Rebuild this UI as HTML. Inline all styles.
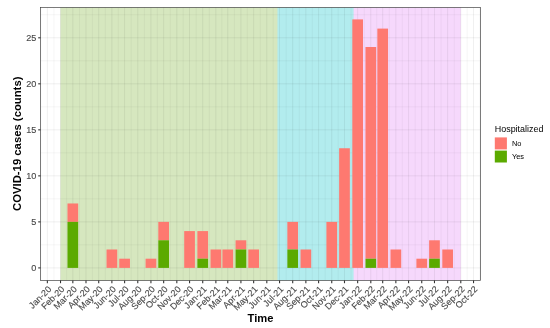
<!DOCTYPE html><html><head><meta charset="utf-8"><title>COVID-19 cases</title>
<style>html,body{margin:0;padding:0;background:#fff}svg{display:block}text{font-family:"Liberation Sans",Arial,Helvetica,sans-serif}</style></head><body>
<svg width="550" height="328" viewBox="0 0 550 328">
<rect width="550" height="328" fill="#fff"/>
<rect x="60.52" y="7.4" width="218.93" height="273.0" fill="rgb(214,231,191)"/>
<rect x="277.45" y="7.4" width="78.15" height="273.0" fill="rgb(178,236,238)"/>
<rect x="353.60" y="7.4" width="107.19" height="273.0" fill="rgb(246,216,252)"/>
<g><line x1="53.94" x2="53.94" y1="7.4" y2="280.4" stroke="rgba(0,0,0,0.12)" stroke-width="0.34"/><line x1="66.67" x2="66.67" y1="7.4" y2="280.4" stroke="rgba(0,0,0,0.12)" stroke-width="0.34"/><line x1="79.41" x2="79.41" y1="7.4" y2="280.4" stroke="rgba(0,0,0,0.12)" stroke-width="0.34"/><line x1="92.35" x2="92.35" y1="7.4" y2="280.4" stroke="rgba(0,0,0,0.12)" stroke-width="0.34"/><line x1="105.30" x2="105.30" y1="7.4" y2="280.4" stroke="rgba(0,0,0,0.12)" stroke-width="0.34"/><line x1="118.25" x2="118.25" y1="7.4" y2="280.4" stroke="rgba(0,0,0,0.12)" stroke-width="0.34"/><line x1="131.19" x2="131.19" y1="7.4" y2="280.4" stroke="rgba(0,0,0,0.12)" stroke-width="0.34"/><line x1="144.35" x2="144.35" y1="7.4" y2="280.4" stroke="rgba(0,0,0,0.12)" stroke-width="0.34"/><line x1="157.30" x2="157.30" y1="7.4" y2="280.4" stroke="rgba(0,0,0,0.12)" stroke-width="0.34"/><line x1="170.24" x2="170.24" y1="7.4" y2="280.4" stroke="rgba(0,0,0,0.12)" stroke-width="0.34"/><line x1="183.19" x2="183.19" y1="7.4" y2="280.4" stroke="rgba(0,0,0,0.12)" stroke-width="0.34"/><line x1="196.14" x2="196.14" y1="7.4" y2="280.4" stroke="rgba(0,0,0,0.12)" stroke-width="0.34"/><line x1="209.30" x2="209.30" y1="7.4" y2="280.4" stroke="rgba(0,0,0,0.12)" stroke-width="0.34"/><line x1="221.82" x2="221.82" y1="7.4" y2="280.4" stroke="rgba(0,0,0,0.12)" stroke-width="0.34"/><line x1="234.34" x2="234.34" y1="7.4" y2="280.4" stroke="rgba(0,0,0,0.12)" stroke-width="0.34"/><line x1="247.29" x2="247.29" y1="7.4" y2="280.4" stroke="rgba(0,0,0,0.12)" stroke-width="0.34"/><line x1="260.23" x2="260.23" y1="7.4" y2="280.4" stroke="rgba(0,0,0,0.12)" stroke-width="0.34"/><line x1="273.18" x2="273.18" y1="7.4" y2="280.4" stroke="rgba(0,0,0,0.12)" stroke-width="0.34"/><line x1="286.12" x2="286.12" y1="7.4" y2="280.4" stroke="rgba(0,0,0,0.12)" stroke-width="0.34"/><line x1="299.28" x2="299.28" y1="7.4" y2="280.4" stroke="rgba(0,0,0,0.12)" stroke-width="0.34"/><line x1="312.23" x2="312.23" y1="7.4" y2="280.4" stroke="rgba(0,0,0,0.12)" stroke-width="0.34"/><line x1="325.18" x2="325.18" y1="7.4" y2="280.4" stroke="rgba(0,0,0,0.12)" stroke-width="0.34"/><line x1="338.12" x2="338.12" y1="7.4" y2="280.4" stroke="rgba(0,0,0,0.12)" stroke-width="0.34"/><line x1="351.07" x2="351.07" y1="7.4" y2="280.4" stroke="rgba(0,0,0,0.12)" stroke-width="0.34"/><line x1="364.23" x2="364.23" y1="7.4" y2="280.4" stroke="rgba(0,0,0,0.12)" stroke-width="0.34"/><line x1="376.75" x2="376.75" y1="7.4" y2="280.4" stroke="rgba(0,0,0,0.12)" stroke-width="0.34"/><line x1="389.27" x2="389.27" y1="7.4" y2="280.4" stroke="rgba(0,0,0,0.12)" stroke-width="0.34"/><line x1="402.22" x2="402.22" y1="7.4" y2="280.4" stroke="rgba(0,0,0,0.12)" stroke-width="0.34"/><line x1="415.16" x2="415.16" y1="7.4" y2="280.4" stroke="rgba(0,0,0,0.12)" stroke-width="0.34"/><line x1="428.11" x2="428.11" y1="7.4" y2="280.4" stroke="rgba(0,0,0,0.12)" stroke-width="0.34"/><line x1="441.06" x2="441.06" y1="7.4" y2="280.4" stroke="rgba(0,0,0,0.12)" stroke-width="0.34"/><line x1="454.21" x2="454.21" y1="7.4" y2="280.4" stroke="rgba(0,0,0,0.12)" stroke-width="0.34"/><line x1="467.16" x2="467.16" y1="7.4" y2="280.4" stroke="rgba(0,0,0,0.12)" stroke-width="0.34"/><line x1="40.78" x2="40.78" y1="7.4" y2="280.4" stroke="rgba(0,0,0,0.12)" stroke-width="0.34"/><line x1="479.89" x2="479.89" y1="7.4" y2="280.4" stroke="rgba(0,0,0,0.12)" stroke-width="0.34"/><line x1="40.5" x2="480.5" y1="244.89" y2="244.89" stroke="rgba(0,0,0,0.12)" stroke-width="0.34"/><line x1="40.5" x2="480.5" y1="198.87" y2="198.87" stroke="rgba(0,0,0,0.12)" stroke-width="0.34"/><line x1="40.5" x2="480.5" y1="152.85" y2="152.85" stroke="rgba(0,0,0,0.12)" stroke-width="0.34"/><line x1="40.5" x2="480.5" y1="106.83" y2="106.83" stroke="rgba(0,0,0,0.12)" stroke-width="0.34"/><line x1="40.5" x2="480.5" y1="60.81" y2="60.81" stroke="rgba(0,0,0,0.12)" stroke-width="0.34"/><line x1="40.5" x2="480.5" y1="14.79" y2="14.79" stroke="rgba(0,0,0,0.12)" stroke-width="0.34"/><line x1="47.36" x2="47.36" y1="7.4" y2="280.4" stroke="rgba(0,0,0,0.12)" stroke-width="0.55"/><line x1="60.52" x2="60.52" y1="7.4" y2="280.4" stroke="rgba(0,0,0,0.12)" stroke-width="0.55"/><line x1="72.83" x2="72.83" y1="7.4" y2="280.4" stroke="rgba(0,0,0,0.12)" stroke-width="0.55"/><line x1="85.99" x2="85.99" y1="7.4" y2="280.4" stroke="rgba(0,0,0,0.12)" stroke-width="0.55"/><line x1="98.72" x2="98.72" y1="7.4" y2="280.4" stroke="rgba(0,0,0,0.12)" stroke-width="0.55"/><line x1="111.88" x2="111.88" y1="7.4" y2="280.4" stroke="rgba(0,0,0,0.12)" stroke-width="0.55"/><line x1="124.61" x2="124.61" y1="7.4" y2="280.4" stroke="rgba(0,0,0,0.12)" stroke-width="0.55"/><line x1="137.77" x2="137.77" y1="7.4" y2="280.4" stroke="rgba(0,0,0,0.12)" stroke-width="0.55"/><line x1="150.93" x2="150.93" y1="7.4" y2="280.4" stroke="rgba(0,0,0,0.12)" stroke-width="0.55"/><line x1="163.66" x2="163.66" y1="7.4" y2="280.4" stroke="rgba(0,0,0,0.12)" stroke-width="0.55"/><line x1="176.82" x2="176.82" y1="7.4" y2="280.4" stroke="rgba(0,0,0,0.12)" stroke-width="0.55"/><line x1="189.56" x2="189.56" y1="7.4" y2="280.4" stroke="rgba(0,0,0,0.12)" stroke-width="0.55"/><line x1="202.72" x2="202.72" y1="7.4" y2="280.4" stroke="rgba(0,0,0,0.12)" stroke-width="0.55"/><line x1="215.87" x2="215.87" y1="7.4" y2="280.4" stroke="rgba(0,0,0,0.12)" stroke-width="0.55"/><line x1="227.76" x2="227.76" y1="7.4" y2="280.4" stroke="rgba(0,0,0,0.12)" stroke-width="0.55"/><line x1="240.92" x2="240.92" y1="7.4" y2="280.4" stroke="rgba(0,0,0,0.12)" stroke-width="0.55"/><line x1="253.65" x2="253.65" y1="7.4" y2="280.4" stroke="rgba(0,0,0,0.12)" stroke-width="0.55"/><line x1="266.81" x2="266.81" y1="7.4" y2="280.4" stroke="rgba(0,0,0,0.12)" stroke-width="0.55"/><line x1="279.55" x2="279.55" y1="7.4" y2="280.4" stroke="rgba(0,0,0,0.12)" stroke-width="0.55"/><line x1="292.70" x2="292.70" y1="7.4" y2="280.4" stroke="rgba(0,0,0,0.12)" stroke-width="0.55"/><line x1="305.86" x2="305.86" y1="7.4" y2="280.4" stroke="rgba(0,0,0,0.12)" stroke-width="0.55"/><line x1="318.60" x2="318.60" y1="7.4" y2="280.4" stroke="rgba(0,0,0,0.12)" stroke-width="0.55"/><line x1="331.75" x2="331.75" y1="7.4" y2="280.4" stroke="rgba(0,0,0,0.12)" stroke-width="0.55"/><line x1="344.49" x2="344.49" y1="7.4" y2="280.4" stroke="rgba(0,0,0,0.12)" stroke-width="0.55"/><line x1="357.65" x2="357.65" y1="7.4" y2="280.4" stroke="rgba(0,0,0,0.12)" stroke-width="0.55"/><line x1="370.81" x2="370.81" y1="7.4" y2="280.4" stroke="rgba(0,0,0,0.12)" stroke-width="0.55"/><line x1="382.69" x2="382.69" y1="7.4" y2="280.4" stroke="rgba(0,0,0,0.12)" stroke-width="0.55"/><line x1="395.85" x2="395.85" y1="7.4" y2="280.4" stroke="rgba(0,0,0,0.12)" stroke-width="0.55"/><line x1="408.58" x2="408.58" y1="7.4" y2="280.4" stroke="rgba(0,0,0,0.12)" stroke-width="0.55"/><line x1="421.74" x2="421.74" y1="7.4" y2="280.4" stroke="rgba(0,0,0,0.12)" stroke-width="0.55"/><line x1="434.48" x2="434.48" y1="7.4" y2="280.4" stroke="rgba(0,0,0,0.12)" stroke-width="0.55"/><line x1="447.64" x2="447.64" y1="7.4" y2="280.4" stroke="rgba(0,0,0,0.12)" stroke-width="0.55"/><line x1="460.79" x2="460.79" y1="7.4" y2="280.4" stroke="rgba(0,0,0,0.12)" stroke-width="0.55"/><line x1="473.53" x2="473.53" y1="7.4" y2="280.4" stroke="rgba(0,0,0,0.12)" stroke-width="0.55"/><line x1="40.5" x2="480.5" y1="267.90" y2="267.90" stroke="rgba(0,0,0,0.12)" stroke-width="0.55"/><line x1="40.5" x2="480.5" y1="221.88" y2="221.88" stroke="rgba(0,0,0,0.12)" stroke-width="0.55"/><line x1="40.5" x2="480.5" y1="175.86" y2="175.86" stroke="rgba(0,0,0,0.12)" stroke-width="0.55"/><line x1="40.5" x2="480.5" y1="129.84" y2="129.84" stroke="rgba(0,0,0,0.12)" stroke-width="0.55"/><line x1="40.5" x2="480.5" y1="83.82" y2="83.82" stroke="rgba(0,0,0,0.12)" stroke-width="0.55"/><line x1="40.5" x2="480.5" y1="37.80" y2="37.80" stroke="rgba(0,0,0,0.12)" stroke-width="0.55"/></g>
<rect x="67.48" y="203.47" width="10.7" height="18.41" fill="#FE7970"/>
<rect x="67.48" y="221.88" width="10.7" height="46.02" fill="#5BAA00"/>
<rect x="106.53" y="249.49" width="10.7" height="18.41" fill="#FE7970"/>
<rect x="119.26" y="258.70" width="10.7" height="9.20" fill="#FE7970"/>
<rect x="145.58" y="258.70" width="10.7" height="9.20" fill="#FE7970"/>
<rect x="158.31" y="221.88" width="10.7" height="18.41" fill="#FE7970"/>
<rect x="158.31" y="240.29" width="10.7" height="27.61" fill="#5BAA00"/>
<rect x="184.21" y="231.08" width="10.7" height="36.82" fill="#FE7970"/>
<rect x="197.37" y="231.08" width="10.7" height="27.61" fill="#FE7970"/>
<rect x="197.37" y="258.70" width="10.7" height="9.20" fill="#5BAA00"/>
<rect x="210.52" y="249.49" width="10.7" height="18.41" fill="#FE7970"/>
<rect x="222.41" y="249.49" width="10.7" height="18.41" fill="#FE7970"/>
<rect x="235.57" y="240.29" width="10.7" height="9.20" fill="#FE7970"/>
<rect x="235.57" y="249.49" width="10.7" height="18.41" fill="#5BAA00"/>
<rect x="248.30" y="249.49" width="10.7" height="18.41" fill="#FE7970"/>
<rect x="287.35" y="221.88" width="10.7" height="27.61" fill="#FE7970"/>
<rect x="287.35" y="249.49" width="10.7" height="18.41" fill="#5BAA00"/>
<rect x="300.51" y="249.49" width="10.7" height="18.41" fill="#FE7970"/>
<rect x="326.40" y="221.88" width="10.7" height="46.02" fill="#FE7970"/>
<rect x="339.14" y="148.25" width="10.7" height="119.65" fill="#FE7970"/>
<rect x="352.30" y="19.39" width="10.7" height="248.51" fill="#FE7970"/>
<rect x="365.46" y="47.00" width="10.7" height="211.69" fill="#FE7970"/>
<rect x="365.46" y="258.70" width="10.7" height="9.20" fill="#5BAA00"/>
<rect x="377.34" y="28.60" width="10.7" height="239.30" fill="#FE7970"/>
<rect x="390.50" y="249.49" width="10.7" height="18.41" fill="#FE7970"/>
<rect x="416.39" y="258.70" width="10.7" height="9.20" fill="#FE7970"/>
<rect x="429.13" y="240.29" width="10.7" height="18.41" fill="#FE7970"/>
<rect x="429.13" y="258.70" width="10.7" height="9.20" fill="#5BAA00"/>
<rect x="442.29" y="249.49" width="10.7" height="18.41" fill="#FE7970"/>
<rect x="40.5" y="7.4" width="440.0" height="273.0" fill="none" stroke="#444" stroke-width="0.7"/>
<g><line x1="47.36" x2="47.36" y1="280.4" y2="283.2" stroke="#333" stroke-width="1.1"/><line x1="60.52" x2="60.52" y1="280.4" y2="283.2" stroke="#333" stroke-width="1.1"/><line x1="72.83" x2="72.83" y1="280.4" y2="283.2" stroke="#333" stroke-width="1.1"/><line x1="85.99" x2="85.99" y1="280.4" y2="283.2" stroke="#333" stroke-width="1.1"/><line x1="98.72" x2="98.72" y1="280.4" y2="283.2" stroke="#333" stroke-width="1.1"/><line x1="111.88" x2="111.88" y1="280.4" y2="283.2" stroke="#333" stroke-width="1.1"/><line x1="124.61" x2="124.61" y1="280.4" y2="283.2" stroke="#333" stroke-width="1.1"/><line x1="137.77" x2="137.77" y1="280.4" y2="283.2" stroke="#333" stroke-width="1.1"/><line x1="150.93" x2="150.93" y1="280.4" y2="283.2" stroke="#333" stroke-width="1.1"/><line x1="163.66" x2="163.66" y1="280.4" y2="283.2" stroke="#333" stroke-width="1.1"/><line x1="176.82" x2="176.82" y1="280.4" y2="283.2" stroke="#333" stroke-width="1.1"/><line x1="189.56" x2="189.56" y1="280.4" y2="283.2" stroke="#333" stroke-width="1.1"/><line x1="202.72" x2="202.72" y1="280.4" y2="283.2" stroke="#333" stroke-width="1.1"/><line x1="215.87" x2="215.87" y1="280.4" y2="283.2" stroke="#333" stroke-width="1.1"/><line x1="227.76" x2="227.76" y1="280.4" y2="283.2" stroke="#333" stroke-width="1.1"/><line x1="240.92" x2="240.92" y1="280.4" y2="283.2" stroke="#333" stroke-width="1.1"/><line x1="253.65" x2="253.65" y1="280.4" y2="283.2" stroke="#333" stroke-width="1.1"/><line x1="266.81" x2="266.81" y1="280.4" y2="283.2" stroke="#333" stroke-width="1.1"/><line x1="279.55" x2="279.55" y1="280.4" y2="283.2" stroke="#333" stroke-width="1.1"/><line x1="292.70" x2="292.70" y1="280.4" y2="283.2" stroke="#333" stroke-width="1.1"/><line x1="305.86" x2="305.86" y1="280.4" y2="283.2" stroke="#333" stroke-width="1.1"/><line x1="318.60" x2="318.60" y1="280.4" y2="283.2" stroke="#333" stroke-width="1.1"/><line x1="331.75" x2="331.75" y1="280.4" y2="283.2" stroke="#333" stroke-width="1.1"/><line x1="344.49" x2="344.49" y1="280.4" y2="283.2" stroke="#333" stroke-width="1.1"/><line x1="357.65" x2="357.65" y1="280.4" y2="283.2" stroke="#333" stroke-width="1.1"/><line x1="370.81" x2="370.81" y1="280.4" y2="283.2" stroke="#333" stroke-width="1.1"/><line x1="382.69" x2="382.69" y1="280.4" y2="283.2" stroke="#333" stroke-width="1.1"/><line x1="395.85" x2="395.85" y1="280.4" y2="283.2" stroke="#333" stroke-width="1.1"/><line x1="408.58" x2="408.58" y1="280.4" y2="283.2" stroke="#333" stroke-width="1.1"/><line x1="421.74" x2="421.74" y1="280.4" y2="283.2" stroke="#333" stroke-width="1.1"/><line x1="434.48" x2="434.48" y1="280.4" y2="283.2" stroke="#333" stroke-width="1.1"/><line x1="447.64" x2="447.64" y1="280.4" y2="283.2" stroke="#333" stroke-width="1.1"/><line x1="460.79" x2="460.79" y1="280.4" y2="283.2" stroke="#333" stroke-width="1.1"/><line x1="473.53" x2="473.53" y1="280.4" y2="283.2" stroke="#333" stroke-width="1.1"/><line x1="38.2" x2="40.5" y1="267.90" y2="267.90" stroke="#333" stroke-width="1.1"/><line x1="38.2" x2="40.5" y1="221.88" y2="221.88" stroke="#333" stroke-width="1.1"/><line x1="38.2" x2="40.5" y1="175.86" y2="175.86" stroke="#333" stroke-width="1.1"/><line x1="38.2" x2="40.5" y1="129.84" y2="129.84" stroke="#333" stroke-width="1.1"/><line x1="38.2" x2="40.5" y1="83.82" y2="83.82" stroke="#333" stroke-width="1.1"/><line x1="38.2" x2="40.5" y1="37.80" y2="37.80" stroke="#333" stroke-width="1.1"/></g>
<text x="36.3" y="271.20" font-size="9.15" fill="#474747" stroke="#474747" stroke-width="0.12" text-anchor="end">0</text>
<text x="36.3" y="225.18" font-size="9.15" fill="#474747" stroke="#474747" stroke-width="0.12" text-anchor="end">5</text>
<text x="36.3" y="179.16" font-size="9.15" fill="#474747" stroke="#474747" stroke-width="0.12" text-anchor="end">10</text>
<text x="36.3" y="133.14" font-size="9.15" fill="#474747" stroke="#474747" stroke-width="0.12" text-anchor="end">15</text>
<text x="36.3" y="87.12" font-size="9.15" fill="#474747" stroke="#474747" stroke-width="0.12" text-anchor="end">20</text>
<text x="36.3" y="41.10" font-size="9.15" fill="#474747" stroke="#474747" stroke-width="0.12" text-anchor="end">25</text>
<text transform="translate(51.96,289.80) rotate(-45)" font-size="9.0" fill="#474747" stroke="#474747" stroke-width="0.12" text-anchor="end">Jan-20</text>
<text transform="translate(65.12,289.80) rotate(-45)" font-size="9.0" fill="#474747" stroke="#474747" stroke-width="0.12" text-anchor="end">Feb-20</text>
<text transform="translate(77.43,289.80) rotate(-45)" font-size="9.0" fill="#474747" stroke="#474747" stroke-width="0.12" text-anchor="end">Mar-20</text>
<text transform="translate(90.59,289.80) rotate(-45)" font-size="9.0" fill="#474747" stroke="#474747" stroke-width="0.12" text-anchor="end">Apr-20</text>
<text transform="translate(103.32,289.80) rotate(-45)" font-size="9.0" fill="#474747" stroke="#474747" stroke-width="0.12" text-anchor="end">May-20</text>
<text transform="translate(116.48,289.80) rotate(-45)" font-size="9.0" fill="#474747" stroke="#474747" stroke-width="0.12" text-anchor="end">Jun-20</text>
<text transform="translate(129.21,289.80) rotate(-45)" font-size="9.0" fill="#474747" stroke="#474747" stroke-width="0.12" text-anchor="end">Jul-20</text>
<text transform="translate(142.37,289.80) rotate(-45)" font-size="9.0" fill="#474747" stroke="#474747" stroke-width="0.12" text-anchor="end">Aug-20</text>
<text transform="translate(155.53,289.80) rotate(-45)" font-size="9.0" fill="#474747" stroke="#474747" stroke-width="0.12" text-anchor="end">Sep-20</text>
<text transform="translate(168.26,289.80) rotate(-45)" font-size="9.0" fill="#474747" stroke="#474747" stroke-width="0.12" text-anchor="end">Oct-20</text>
<text transform="translate(181.42,289.80) rotate(-45)" font-size="9.0" fill="#474747" stroke="#474747" stroke-width="0.12" text-anchor="end">Nov-20</text>
<text transform="translate(194.16,289.80) rotate(-45)" font-size="9.0" fill="#474747" stroke="#474747" stroke-width="0.12" text-anchor="end">Dec-20</text>
<text transform="translate(207.32,289.80) rotate(-45)" font-size="9.0" fill="#474747" stroke="#474747" stroke-width="0.12" text-anchor="end">Jan-21</text>
<text transform="translate(220.47,289.80) rotate(-45)" font-size="9.0" fill="#474747" stroke="#474747" stroke-width="0.12" text-anchor="end">Feb-21</text>
<text transform="translate(232.36,289.80) rotate(-45)" font-size="9.0" fill="#474747" stroke="#474747" stroke-width="0.12" text-anchor="end">Mar-21</text>
<text transform="translate(245.52,289.80) rotate(-45)" font-size="9.0" fill="#474747" stroke="#474747" stroke-width="0.12" text-anchor="end">Apr-21</text>
<text transform="translate(258.25,289.80) rotate(-45)" font-size="9.0" fill="#474747" stroke="#474747" stroke-width="0.12" text-anchor="end">May-21</text>
<text transform="translate(271.41,289.80) rotate(-45)" font-size="9.0" fill="#474747" stroke="#474747" stroke-width="0.12" text-anchor="end">Jun-21</text>
<text transform="translate(284.15,289.80) rotate(-45)" font-size="9.0" fill="#474747" stroke="#474747" stroke-width="0.12" text-anchor="end">Jul-21</text>
<text transform="translate(297.30,289.80) rotate(-45)" font-size="9.0" fill="#474747" stroke="#474747" stroke-width="0.12" text-anchor="end">Aug-21</text>
<text transform="translate(310.46,289.80) rotate(-45)" font-size="9.0" fill="#474747" stroke="#474747" stroke-width="0.12" text-anchor="end">Sep-21</text>
<text transform="translate(323.20,289.80) rotate(-45)" font-size="9.0" fill="#474747" stroke="#474747" stroke-width="0.12" text-anchor="end">Oct-21</text>
<text transform="translate(336.35,289.80) rotate(-45)" font-size="9.0" fill="#474747" stroke="#474747" stroke-width="0.12" text-anchor="end">Nov-21</text>
<text transform="translate(349.09,289.80) rotate(-45)" font-size="9.0" fill="#474747" stroke="#474747" stroke-width="0.12" text-anchor="end">Dec-21</text>
<text transform="translate(362.25,289.80) rotate(-45)" font-size="9.0" fill="#474747" stroke="#474747" stroke-width="0.12" text-anchor="end">Jan-22</text>
<text transform="translate(375.41,289.80) rotate(-45)" font-size="9.0" fill="#474747" stroke="#474747" stroke-width="0.12" text-anchor="end">Feb-22</text>
<text transform="translate(387.29,289.80) rotate(-45)" font-size="9.0" fill="#474747" stroke="#474747" stroke-width="0.12" text-anchor="end">Mar-22</text>
<text transform="translate(400.45,289.80) rotate(-45)" font-size="9.0" fill="#474747" stroke="#474747" stroke-width="0.12" text-anchor="end">Apr-22</text>
<text transform="translate(413.18,289.80) rotate(-45)" font-size="9.0" fill="#474747" stroke="#474747" stroke-width="0.12" text-anchor="end">May-22</text>
<text transform="translate(426.34,289.80) rotate(-45)" font-size="9.0" fill="#474747" stroke="#474747" stroke-width="0.12" text-anchor="end">Jun-22</text>
<text transform="translate(439.08,289.80) rotate(-45)" font-size="9.0" fill="#474747" stroke="#474747" stroke-width="0.12" text-anchor="end">Jul-22</text>
<text transform="translate(452.24,289.80) rotate(-45)" font-size="9.0" fill="#474747" stroke="#474747" stroke-width="0.12" text-anchor="end">Aug-22</text>
<text transform="translate(465.39,289.80) rotate(-45)" font-size="9.0" fill="#474747" stroke="#474747" stroke-width="0.12" text-anchor="end">Sep-22</text>
<text transform="translate(478.13,289.80) rotate(-45)" font-size="9.0" fill="#474747" stroke="#474747" stroke-width="0.12" text-anchor="end">Oct-22</text>
<text x="260.50" y="322.2" font-size="11.2" font-weight="bold" fill="#000" text-anchor="middle">Time</text>
<text transform="translate(21.15,143.75) rotate(-90)" font-size="11.3" font-weight="bold" fill="#000" text-anchor="middle">COVID-19 cases (counts)</text>
<text x="494.8" y="131.8" font-size="8.94" fill="#000">Hospitalized</text>
<rect x="494.8" y="137.4" width="12.1" height="12.0" fill="#FE7970"/>
<rect x="494.8" y="150.6" width="12.1" height="11.9" fill="#5BAA00"/>
<text x="511.9" y="146.4" font-size="7.45" fill="#000">No</text>
<text x="511.9" y="159.3" font-size="7.45" fill="#000">Yes</text>
</svg></body></html>
